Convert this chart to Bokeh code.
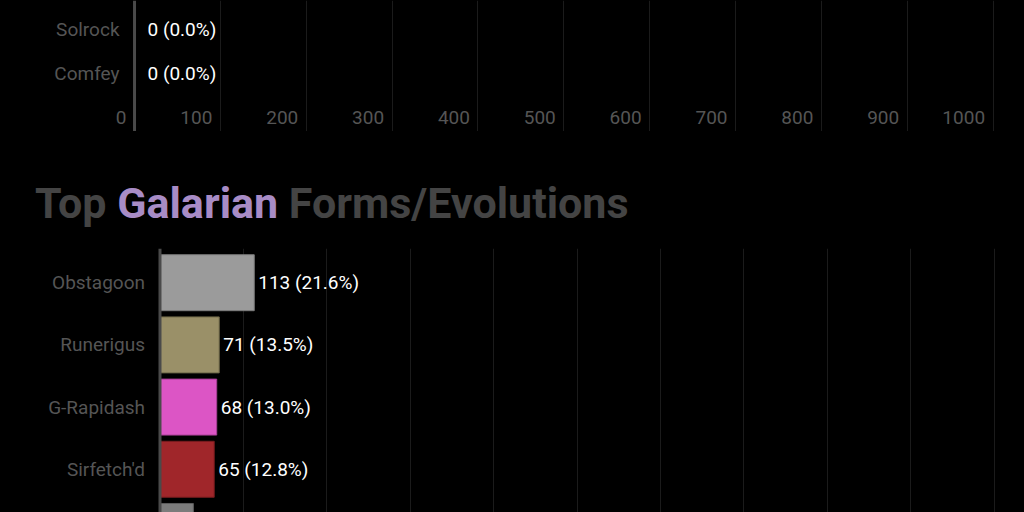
from bokeh.plotting import figure
from bokeh.models import Range1d, FixedTicker, Div, Grid, Span, ColumnDataSource
from bokeh.layouts import column
from bokeh.embed import file_html
from bokeh.resources import INLINE
from bokeh.core.properties import value

# ---- data: tail of the previous chart ----
top_names = ["Solrock", "Comfey"]
top_counts = [0, 0]
top_labels = ["0 (0.0%)", "0 (0.0%)"]
top_ticks = [0, 100, 200, 300, 400, 500, 600, 700, 800, 900, 1000]

# ---- data: Top Galarian Forms/Evolutions ----
gal_names = ["Obstagoon", "Runerigus", "G-Rapidash", "Sirfetch'd", "Perrserker"]
gal_counts = [113, 71, 68, 65, 40]
gal_labels = ["113 (21.6%)", "71 (13.5%)", "68 (13.0%)", "65 (12.8%)", "40 (7.6%)"]
gal_colors = ["#9b9b9b", "#9a9068", "#dc55c5", "#a0262a", "#7c7c7c"]
gal_borders = ["#7a7a7a", "#6e6848", "#a83f96", "#771c1f", "#5e5e5e"]
grid_ticks = [100, 200, 300, 400, 500, 600, 700, 800, 900, 1000]
visible_rows = 4  # rows whose labels lie inside the visible window

FONT = value("Roboto")
FS = "19px"
LABEL_GRAY = "#555555"
GRID_COLOR = "#1b1b1b"
AXIS_COLOR = "#4a4a4a"


def base_fig(height, x_range, y_range):
    p = figure(width=1024, height=height, output_backend="svg", toolbar_location=None,
               x_range=x_range, y_range=y_range,
               x_axis_location=None, y_axis_location=None,
               min_border_left=0, min_border_right=0, min_border_top=0, min_border_bottom=0,
               background_fill_color="black", border_fill_color="black",
               outline_line_color=None)
    p.grid.grid_line_color = None
    p.grid.visible = False
    p.add_layout(Grid(dimension=0, ticker=FixedTicker(ticks=grid_ticks),
                      grid_line_color=GRID_COLOR, grid_line_width=1))
    return p


# ---------------- top (end of previous chart) ----------------
top_idx = list(range(len(top_names)))
tick_row = len(top_names)
p1 = base_fig(131, Range1d(-156.1, 1036.6), Range1d(2.318, -0.659))
p1.add_layout(Span(location=0, dimension="height", line_color=AXIS_COLOR, line_width=3))
p1.text(x=[0] * len(top_names), y=top_idx, text=top_names, text_align="right",
        text_baseline="middle", x_offset=-15, text_color=LABEL_GRAY,
        text_font=FONT, text_font_size=FS)
p1.text(x=top_counts, y=top_idx, text=top_labels, text_align="left",
        text_baseline="middle", x_offset=13, text_color="white",
        text_font=FONT, text_font_size=FS)
p1.text(x=top_ticks, y=[tick_row] * len(top_ticks), text=[str(t) for t in top_ticks],
        text_align="right", text_baseline="middle", x_offset=-8, text_color=LABEL_GRAY,
        text_font=FONT, text_font_size=FS)

# ---------------- title ----------------
title = Div(
    text=('<div style="padding:51px 0 0 35px;font-family:Roboto;font-weight:700;'
          'font-size:43px;line-height:1;white-space:nowrap;color:#444444">'
          'Top <span style="color:#a88cc6">Galarian</span> Forms/Evolutions</div>'),
    width=1024, height=117, margin=(0, 0, 0, 0))

# ---------------- bottom chart ----------------
gal_idx = list(range(len(gal_names)))
src = ColumnDataSource(dict(y=gal_idx, count=gal_counts,
                            color=gal_colors, border=gal_borders))
lab = ColumnDataSource(dict(y=gal_idx[:visible_rows], name=gal_names[:visible_rows],
                            count=gal_counts[:visible_rows], label=gal_labels[:visible_rows]))
p2 = base_fig(264, Range1d(-191.2, 1036.4), Range1d(3.695, -0.55))
p2.hbar(y="y", left=0, right="count", height=0.9, fill_color="color",
        line_color="border", line_width=1, source=src)
p2.add_layout(Span(location=0, dimension="height", line_color=AXIS_COLOR, line_width=3))
p2.text(x=0, y="y", text="name", text_align="right", text_baseline="middle",
        x_offset=-15, text_color=LABEL_GRAY, text_font=FONT, text_font_size=FS,
        source=lab)
p2.text(x="count", y="y", text="label", text_align="left", text_baseline="middle",
        x_offset=4, text_color="white", text_font=FONT, text_font_size=FS,
        source=lab)

layout = column(p1, title, p2, spacing=0)
layout.styles = {"background-color": "black"}

html = file_html(layout, INLINE)
html = html.replace("<head>", "<head><style>html,body{background:#000;}</style>", 1)
open("out.html", "w").write(html)
